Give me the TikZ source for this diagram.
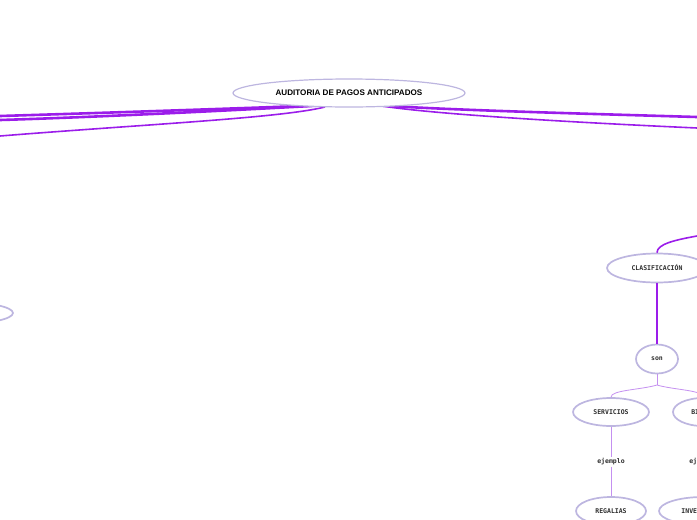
\documentclass[tikz,border=0pt]{standalone}
\usepackage{fontspec}
\setmainfont{Liberation Sans}
\newfontfamily\monofont{DejaVu Sans Mono}
\usetikzlibrary{shapes.geometric}
\definecolor{branch}{HTML}{9B1DEA}
\definecolor{twig}{HTML}{C490F0}
\definecolor{rim}{HTML}{BDB6E0}
\definecolor{ink}{HTML}{2E2E2E}

\begin{document}
\begin{tikzpicture}[x=1pt, y=-1pt,
    idea/.style={ellipse, draw=rim, line width=1.7pt, fill=white, inner sep=0pt,
        text=ink, font=\monofont\bfseries\fontsize{6.5}{7}\selectfont},
    word/.style={fill=white, inner sep=1pt, text=ink,
        font=\monofont\bfseries\fontsize{6.5}{7}\selectfont},
    thick branch/.style={branch, line width=2.6pt},
    thin branch/.style={branch, line width=1.6pt},
    twig line/.style={twig, line width=0.8pt}]
        \useasboundingbox (0,0) rectangle (697,520);
        \clip (0,0) rectangle (697,520);

        % Loose ends of the branches
        \coordinate (west a) at (0,116);
        \coordinate (west b) at (0,120);
        \coordinate (west c) at (0,136);
        \coordinate (east a) at (697,117);
        \coordinate (east b) at (697,128);
        \coordinate (east c) at (697,236);
        \coordinate (fork) at (657,385);

        % Main branches from the title
        \coordinate (root w) at (329,105);
        \coordinate (root e) at (372,105);
        \draw [thick branch] (root w) .. controls (250,108) and (100,113) .. (west a);
        \draw [thick branch] (root w) .. controls (240,110) and (100,117) .. (west b);
        \draw [thin branch] (325,107) .. controls (280,118) and (150,124) .. (west c);
        \draw [thick branch] (root e) .. controls (450,110) and (560,113) .. (east a);
        \draw [thin branch] (382,106) .. controls (420,112) and (520,120) .. (east b);

        % Title
        \node [ellipse, draw=rim, line width=1.2pt, fill=white, inner sep=0pt,
            minimum width=232pt, minimum height=28pt,
            font=\bfseries\fontsize{8.1}{9}\selectfont] (title) at (349,93)
            {AUDITORIA DE PAGOS ANTICIPADOS};

        % Left node, mostly off the page
        \node [idea, minimum width=106pt, minimum height=22pt] (left) at (-40,313) {};

        % Clasificacion
        \node [idea, minimum width=100pt, minimum height=29pt] (clas) at (657,268) {CLASIFICACIÓN};
        \draw [thin branch] (clas.north) .. controls (657,244) and (675,240) .. (east c);

        \node [idea, minimum width=42pt, minimum height=29pt] (son) at (657,359) {son};
        \draw [branch, line width=1.3pt] (clas) -- (son);

        % Servicios and bienes
        \node [idea, minimum width=76pt, minimum height=28pt] (serv) at (611,412) {SERVICIOS};
        \node [idea, minimum width=60pt, minimum height=28pt] (bien) at (703,412) {BIENES};
        \draw [twig line] (son.south) -- (fork);
        \draw [twig line] (fork) .. controls (640,390) and (611,390) .. (serv.north);
        \draw [twig line] (fork) .. controls (674,390) and (703,390) .. (bien.north);

        % Examples
        \node [word] (ej serv) at (611,462) {ejemplo};
        \node [word] (ej bien) at (703,462) {ejemplo};
        \node [idea, minimum width=70pt, minimum height=28pt] (regal) at (611,511) {REGALIAS};
        \node [idea, minimum width=88pt, minimum height=28pt] (inve) at (703,511) {INVENTARIOS};
        \draw [twig line] (serv) -- (ej serv);
        \draw [twig line] (ej serv) -- (regal);
        \draw [twig line] (bien) -- (ej bien);
        \draw [twig line] (ej bien) -- (inve);
    \end{tikzpicture}
\end{document}
